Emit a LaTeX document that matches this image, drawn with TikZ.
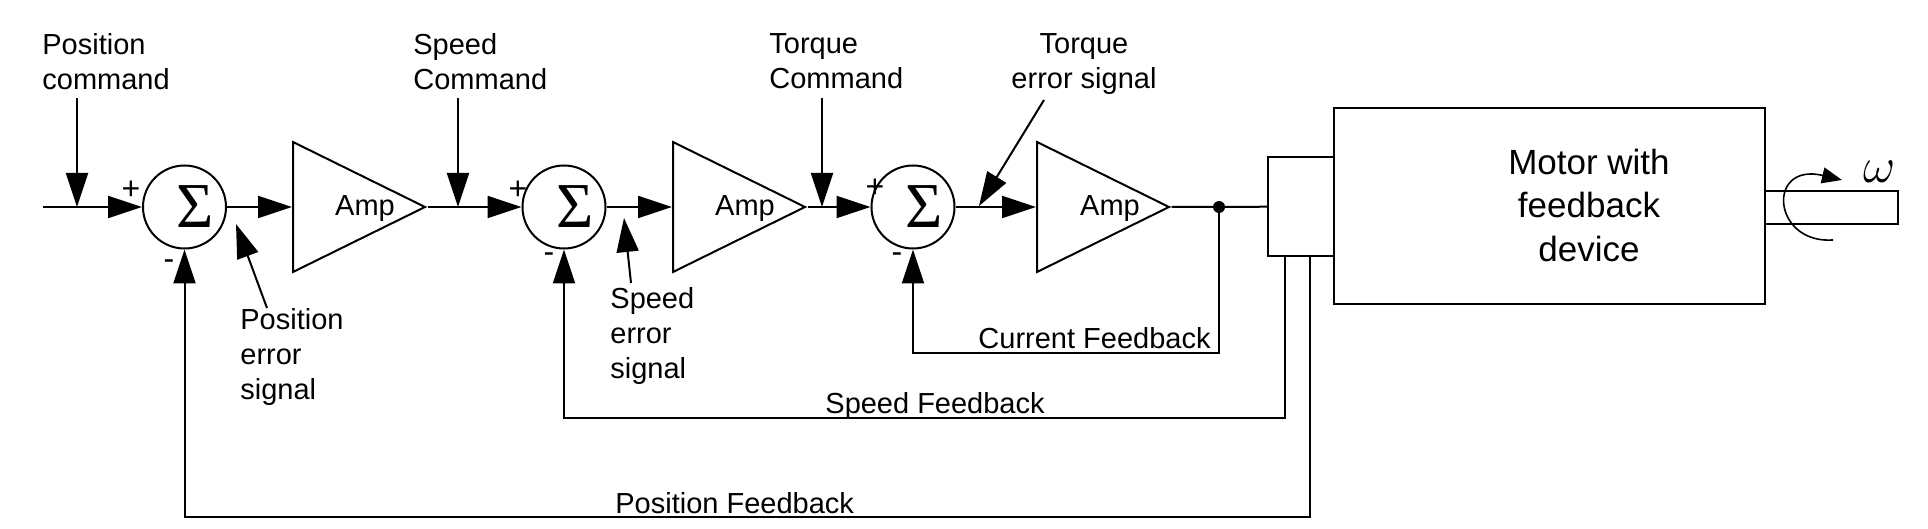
\documentclass[tikz,border=0pt]{standalone}
\usepackage{fontspec}
\setmainfont{Liberation Sans}
\newfontfamily\sigfont{Liberation Serif}
\usetikzlibrary{shapes.geometric,arrows.meta,positioning}

\begin{document}
\begin{tikzpicture}[x=0.5pt, y=-0.5pt, font=\fontsize{14.5}{17.5}\selectfont,
  sum/.style={circle, draw, line width=1pt, minimum size=41.5pt, inner sep=0pt,
              font=\sigfont\fontsize{32}{32}\selectfont},
  amp/.style={isosceles triangle, isosceles triangle stretches, shape border rotate=0,
              draw, line width=1pt, minimum width=65pt, minimum height=66pt, inner sep=0pt,
              anchor=lower side},
  amptxt/.style={inner sep=0pt, anchor=base},
  box/.style={draw, line width=1pt, inner sep=0pt},
  arr/.style={-{Triangle[length=17pt,width=11pt]}, line width=1pt},
  wire/.style={line width=1pt},
  lab/.style={inner sep=0pt, align=left, anchor=north west},
  fblab/.style={inner sep=0pt, anchor=base west},
  sign/.style={inner sep=0pt, font=\fontsize{16}{16}\selectfont},
  ]
\useasboundingbox (0,0) rectangle (1928,529);
% ---- the three loops
\node[sum] (psum) at (184.5,207) {\hspace*{11pt}Σ};
\node[amp] (pamp) at (292,207) {};
\node[amptxt] (pamptxt) at (365,216) {Amp};
\node[sum] (ssum) at (564,207) {\hspace*{11pt}Σ};
\node[amp] (samp) at (672,207) {};
\node[amptxt] (samptxt) at (745,216) {Amp};
\node[sum] (tsum) at (913,207) {\hspace*{11pt}Σ};
\node[amp] (tamp) at (1036,207) {};
\node[amptxt] (tamptxt) at (1110,216) {Amp};
\node[sign] (pplus) at (131,190) {+};
\node[sign] (pminus) at (169,265) {-};
\node[sign] (splus) at (518,190) {+};
\node[sign] (sminus) at (549,258) {-};
\node[sign] (tplus) at (875,188) {+};
\node[sign] (tminus) at (897,258) {-};
% ---- the motor
\node[circle, fill, inner sep=0pt, minimum size=6pt] (tap) at (1219,207) {};
\node[box, minimum width=33pt, minimum height=49.5pt] (enc) at (1301,206.5) {};
\node[box, line width=1.4pt, minimum width=215.5pt, minimum height=98pt] (motor) at (1549.5,206) {};
\node[align=center, inner sep=0pt, font=\fontsize{17.5}{21.75}\selectfont] (motortxt) at (1589,205)
  {Motor with\\feedback\\device};
\node[box, minimum width=66.5pt, minimum height=16.5pt] (shaft) at (1831.5,208) {};
\draw[-{Triangle[length=10pt,width=8pt]}, line width=0.8pt]
  (1833,240) .. controls (1772,244) and (1766,162) .. (1842,180);
\node[font=\fontsize{24}{24}\selectfont, inner sep=0pt] (omega) at (1880,172) {$\omega$};
% ---- commands and error signals
\coordinate (in) at (43,207);
\coordinate (pcmd) at (77,98);
\coordinate (scmd) at (458,98);
\coordinate (tcmd) at (822,98);
\coordinate (perr) at (267,308);
\coordinate (perrtip) at (236,224);
\coordinate (serr) at (631,283);
\coordinate (serrtip) at (624,218);
\coordinate (terr) at (1044,100);
\coordinate (terrtip) at (979,206);
\node[lab] (pcmdtxt) at (42,33) {Position\\command};
\node[lab] (scmdtxt) at (413,33) {Speed\\Command};
\node[lab] (tcmdtxt) at (769,33) {Torque\\Command};
\node[lab, align=center, anchor=north] (terrtxt) at (1084,33) {Torque\\error signal};
\node[lab] (perrtxt) at (240,308) {Position\\error\\signal};
\node[lab] (serrtxt) at (610,287) {Speed\\error\\signal};
\draw[arr] (in) -- (psum);
\draw[arr] (pcmd) -- (pcmd |- psum);
\draw[arr] (psum) -- (pamp.lower side);
\draw[arr] (pamp.apex) -- (ssum);
\draw[arr] (scmd) -- (scmd |- ssum);
\draw[arr] (ssum) -- (samp.lower side);
\draw[arr] (samp.apex) -- (tsum);
\draw[arr] (tcmd) -- (tcmd |- tsum);
\draw[arr] (tsum) -- (tamp.lower side);
\draw[wire] (tamp.apex) -- (tap.center) -- (enc);
\draw[arr] (perr) -- (perrtip);
\draw[arr] (serr) -- (serrtip);
\draw[arr] (terr) -- (terrtip);
% ---- feedback paths
\coordinate (cfb) at (1219,353);
\coordinate (sfb) at (1285,418);
\coordinate (pfb) at (1310,517);
\draw[arr] (tap.center) -- (cfb) -| (tsum);
\draw[arr] (enc.south -| sfb) -- (sfb) -| (ssum);
\draw[arr] (enc.south -| pfb) -- (pfb) -| (psum);
\node[fblab, anchor=base east] (cfbtxt) at (1211,349) {Current Feedback};
\node[fblab] (sfbtxt) at (825,413) {Speed Feedback};
\node[fblab] (pfbtxt) at (615,513) {Position Feedback};
\end{tikzpicture}
\end{document}
